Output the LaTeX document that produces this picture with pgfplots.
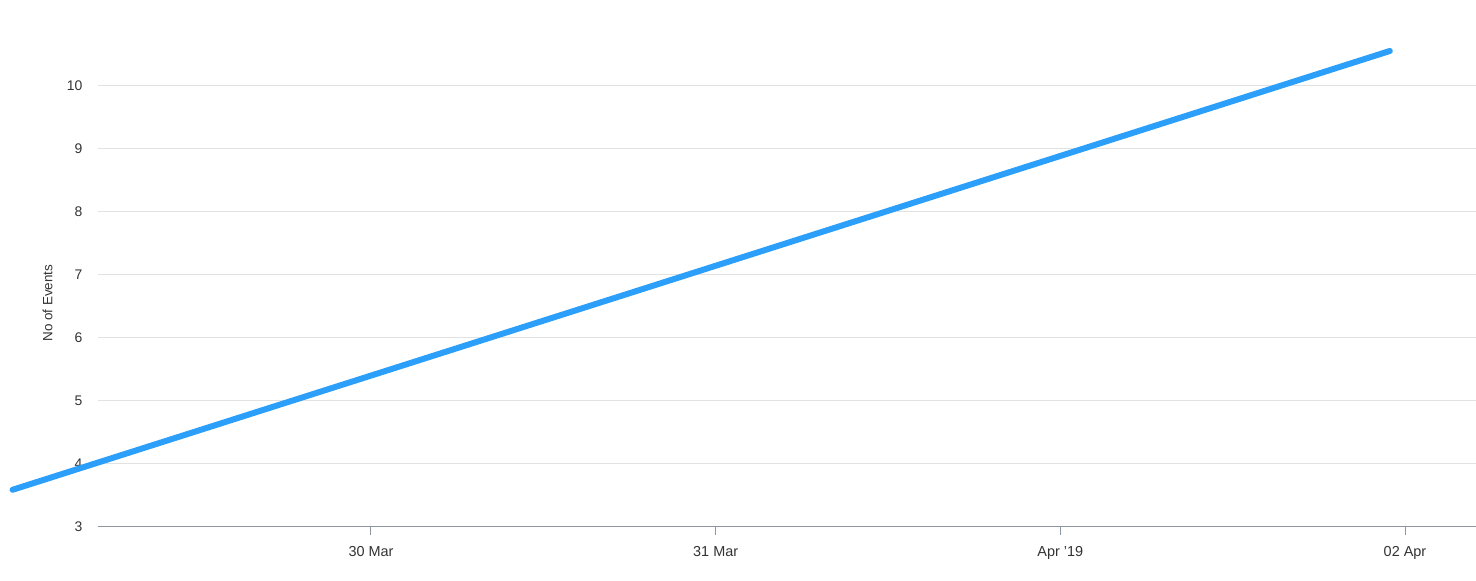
\documentclass[border=0pt]{standalone}
\usepackage{pgfplots}
\pgfplotsset{compat=1.18}
\usepackage{fontspec}
\setmainfont{Liberation Sans}
\definecolor{lineblue}{RGB}{43,159,250}
\definecolor{gridc}{RGB}{226,226,226}
\definecolor{axisc}{RGB}{140,150,160}
\definecolor{labc}{RGB}{51,51,51}
\begin{document}
\begin{tikzpicture}[x=1bp,y=1bp]
\useasboundingbox (0,0) rectangle (1476,581);
\begin{axis}[
  at={(98bp,54bp)}, anchor=south west,
  scale only axis, width=1378bp, height=517bp,
  xmin=-0.792, xmax=3.206, ymin=3, ymax=11.2,
  clip=false,
  axis x line*=bottom, axis y line*=left,
  x axis line style={draw=axisc, line width=1bp, -},
  y axis line style={draw=none},
  xtick={0,1,2,3},
  xticklabels={30 Mar,31 Mar,Apr '19,02 Apr},
  xtick style={draw=axisc, line width=1bp},
  ytick style={draw=none},
  major tick length=8bp,
  xtick align=outside,
  ytick={3,4,...,10},
  ymajorgrids, grid style={draw=gridc, line width=1bp},
  xticklabel style={font=\fontsize{14.5}{16}\selectfont, text=labc, yshift=-8bp},
  yticklabel style={font=\fontsize{14}{16}\selectfont, text=labc, xshift=-12bp},
  ylabel={No of Events},
  ylabel style={font=\fontsize{13.5}{16}\selectfont, text=labc, at={(axis description cs:-0.0366,0.433)}, anchor=center},
  /pgf/number format/assume math mode=true,
]
\addplot[lineblue, line width=6bp, line cap=round] coordinates {(-1.04,3.59) (2.956,10.55)};
\end{axis}
\end{tikzpicture}
\end{document}
